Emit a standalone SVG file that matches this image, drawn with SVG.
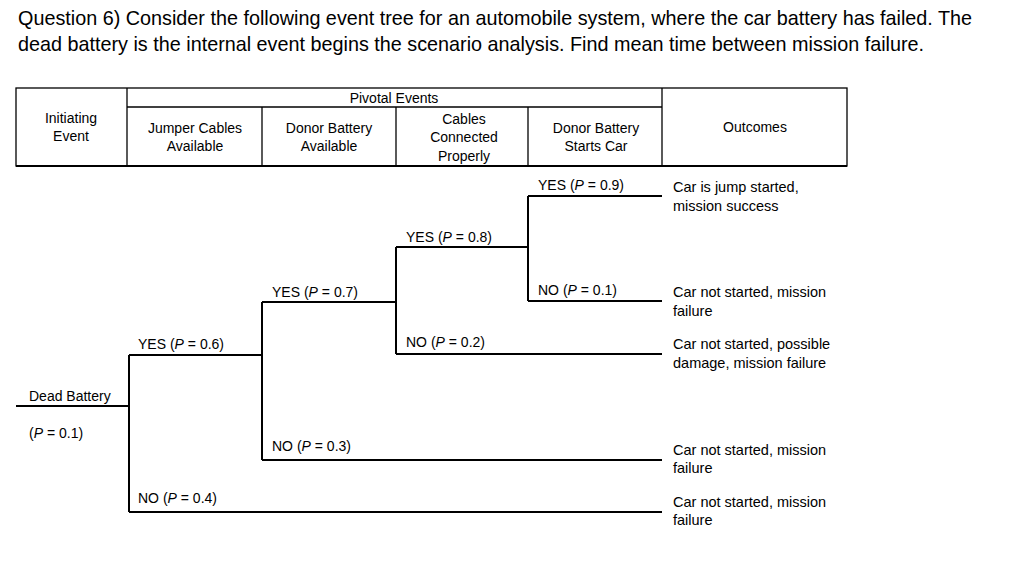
<svg xmlns="http://www.w3.org/2000/svg" width="1024" height="588" viewBox="0 0 1024 588">
<style>
text{font-family:"Liberation Sans",Arial,sans-serif;fill:#000}
.t{font-size:19.8px}
.h{font-size:14px;text-anchor:middle}
.l{font-size:14px}
.o{font-size:14.5px}
.b{stroke:#000;stroke-width:2;fill:none}
.g{stroke:#000;stroke-width:1.3;fill:none}
</style>
<rect width="1024" height="588" fill="#fff"/>
<g id="title">
<text class="t" x="18" y="25">Question 6) Consider the following event tree for an automobile system, where the car battery has failed. The</text>
<text class="t" x="18" y="51">dead battery is the internal event begins the scenario analysis. Find mean time between mission failure.</text>
</g>
<g id="table">
<rect class="g" x="16" y="88" width="831" height="78"/>
<line class="b" x1="16" y1="166" x2="847" y2="166"/>
<line class="g" x1="127" y1="107" x2="662" y2="107"/>
<line class="g" x1="127" y1="88" x2="127" y2="166"/>
<line class="g" x1="262" y1="107" x2="262" y2="166"/>
<line class="g" x1="396" y1="107" x2="396" y2="166"/>
<line class="g" x1="528" y1="107" x2="528" y2="166"/>
<line class="g" x1="662" y1="88" x2="662" y2="166"/>
<text class="h" x="394" y="103">Pivotal Events</text>
<text class="h" x="71" y="123">Initiating</text><text class="h" x="71" y="141">Event</text>
<text class="h" x="195" y="133">Jumper Cables</text><text class="h" x="195" y="151">Available</text>
<text class="h" x="329" y="133">Donor Battery</text><text class="h" x="329" y="151">Available</text>
<text class="h" x="464" y="124">Cables</text><text class="h" x="464" y="142">Connected</text><text class="h" x="464" y="161">Properly</text>
<text class="h" x="596" y="133">Donor Battery</text><text class="h" x="596" y="151">Starts Car</text>
<text class="h" x="755" y="132">Outcomes</text>
</g>
<g id="connectors">
<path class="b" d="M16 406H129M129 355V512M129 355H262M129 512H662M262 302V460M262 302H396M262 460H662M396 247V354M396 247H528M396 354H662M528 196V301M528 196H662M528 301H662"/>
</g>
<g id="labels">
<text class="l" x="29" y="401">Dead Battery</text>
<text class="l" x="29" y="438">(<tspan font-style="italic">P</tspan> = 0.1)</text>
<text class="l" x="138" y="349">YES (<tspan font-style="italic">P</tspan> = 0.6)</text>
<text class="l" x="138" y="503">NO (<tspan font-style="italic">P</tspan> = 0.4)</text>
<text class="l" x="272" y="297">YES (<tspan font-style="italic">P</tspan> = 0.7)</text>
<text class="l" x="272" y="451">NO (<tspan font-style="italic">P</tspan> = 0.3)</text>
<text class="l" x="406" y="242">YES (<tspan font-style="italic">P</tspan> = 0.8)</text>
<text class="l" x="406" y="347">NO (<tspan font-style="italic">P</tspan> = 0.2)</text>
<text class="l" x="538" y="190">YES (<tspan font-style="italic">P</tspan> = 0.9)</text>
<text class="l" x="538" y="295">NO (<tspan font-style="italic">P</tspan> = 0.1)</text>
</g>
<g id="outcomes">
<text class="o" x="673" y="192">Car is jump started,</text><text class="o" x="673" y="211">mission success</text>
<text class="o" x="673" y="297">Car not started, mission</text><text class="o" x="673" y="316">failure</text>
<text class="o" x="673" y="349">Car not started, possible</text><text class="o" x="673" y="368">damage, mission failure</text>
<text class="o" x="673" y="455">Car not started, mission</text><text class="o" x="673" y="473">failure</text>
<text class="o" x="673" y="507">Car not started, mission</text><text class="o" x="673" y="525">failure</text>
</g>
</svg>
